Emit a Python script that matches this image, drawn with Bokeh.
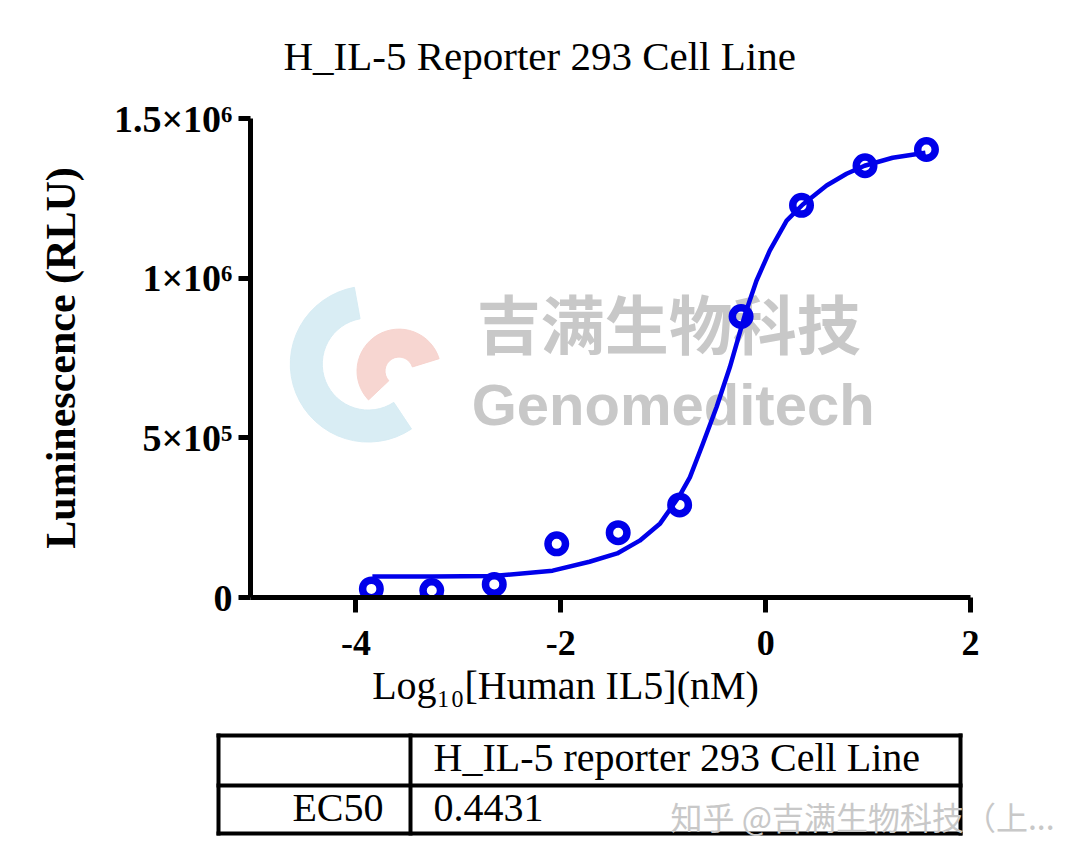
from bokeh.plotting import figure
from bokeh.models import Range1d, FixedTicker
from bokeh.core.properties import value
from bokeh.embed import file_html
from bokeh.resources import INLINE

# ---------------- data ----------------
title_text = "H_IL-5 Reporter 293 Cell Line"
x_label = "Log\u2081\u2080[Human IL5](nM)"
y_label = "Luminescence (RLU)"

pt_x = [-3.85, -3.26, -2.65, -2.04, -1.44, -0.84, -0.24, 0.35, 0.97, 1.57]
pt_y = [27e3, 22e3, 41e3, 168e3, 203e3, 290e3, 880e3, 1228e3, 1352e3, 1403e3]

curve_x = [-3.84, -3.25, -2.66, -2.08, -1.72, -1.45, -1.23, -1.03, -0.84, -0.74,
           -0.615, -0.48, -0.35, -0.205, -0.09, 0.04, 0.205, 0.36, 0.595, 0.79,
           0.965, 1.24, 1.56]
curve_y = [66e3, 66e3, 67e3, 84e3, 112e3, 138e3, 178e3, 232e3, 319e3, 376e3,
           480e3, 596e3, 721e3, 883e3, 992e3, 1086e3, 1180e3, 1230e3, 1290e3, 1327e3,
           1352e3, 1377e3, 1393e3]

x_ticks = [-4, -2, 0, 2]
x_tick_labels = ["-4", "-2", "0", "2"]
y_ticks = [0, 500000, 1000000, 1500000]
y_tick_labels = ["0", "5\u00d710\u2075", "1\u00d710\u2076", "1.5\u00d710\u2076"]

table_header = ["", "H_IL-5 reporter 293 Cell Line"]
table_row = ["EC50", "0.4431"]

wm_cn = "吉满生物科技"
wm_en = "Genomeditech"
wm_zhihu = "知乎 @吉满生物科技（上..."

BLUE = "#0000ea"
SERIF = "Liberation Serif"
W = 1072


def blank(height):
    f = figure(width=W, height=height, x_range=Range1d(0, W), y_range=Range1d(height, 0),
               output_backend="svg", toolbar_location=None, min_border=0,
               x_axis_location=None, y_axis_location=None)
    f.xgrid.visible = False
    f.ygrid.visible = False
    f.outline_line_color = None
    return f


# ---------------- title strip ----------------
TITLE_H = 82
h = blank(TITLE_H)
h.text(x=[283], y=[55], text=[title_text], text_font=value(SERIF),
       text_font_size="41px", text_color="black", text_baseline="alphabetic",
       text_align="left")

# ---------------- main chart ----------------
p = figure(width=W, height=646, frame_width=720, frame_height=479,
           x_range=Range1d(-5.03, 2.0), y_range=Range1d(0, 1500000),
           output_backend="svg", toolbar_location=None,
           min_border_left=250, min_border_right=102,
           min_border_top=118 - TITLE_H, min_border_bottom=131)
p.xgrid.visible = False
p.ygrid.visible = False
p.outline_line_color = None

# watermark logo (faint)
p.annular_wedge(x=[-3.88], y=[731e3], inner_radius=46, outer_radius=78,
                inner_radius_units="screen", outer_radius_units="screen",
                start_angle=1.75, end_angle=5.3,
                color="#d5ebf3", alpha=0.9)
p.annular_wedge(x=[-3.58], y=[709e3], inner_radius=14, outer_radius=42,
                inner_radius_units="screen", outer_radius_units="screen",
                start_angle=0.3, end_angle=3.9,
                color="#f6d2cc", alpha=0.9)

# watermark text
p.text(x=[-2.82], y=[867e3], text=[wm_cn], text_font=value("Noto Sans CJK SC"),
       text_font_style="bold", text_font_size="64px", text_color="#c8c8c8",
       text_baseline="middle", text_align="left")
p.text(x=[-2.87], y=[604e3], text=[wm_en], text_font=value("Liberation Sans"),
       text_font_style="bold", text_font_size="58px", text_color="#c8c8c8",
       text_baseline="alphabetic", text_align="left")

# fitted curve and points
p.line(curve_x, curve_y, line_color=BLUE, line_width=4.5, line_join="round")
p.scatter(pt_x, pt_y, marker="circle", size=17.5, fill_color="white", fill_alpha=0.0,
          line_color=BLUE, line_width=7.5)

# axes
for ax in (p.xaxis[0], p.yaxis[0]):
    ax.axis_line_width = 5
    ax.axis_line_color = "black"
    ax.major_tick_line_width = 5
    ax.major_tick_line_color = "black"
    ax.major_tick_in = 0
    ax.minor_tick_line_color = None
    ax.major_label_text_font = SERIF
    ax.major_label_text_font_style = "bold"
    ax.major_label_text_color = "black"
    ax.axis_label_text_font = SERIF
    ax.axis_label_text_color = "black"

p.xaxis[0].ticker = FixedTicker(ticks=x_ticks)
p.xaxis[0].major_label_overrides = {t: l for t, l in zip(x_ticks, x_tick_labels)}
p.xaxis[0].major_label_text_font_size = "36px"
p.xaxis[0].major_tick_out = 15
p.xaxis[0].major_label_standoff = 18
# trailing no-break spaces shift the centred title left, as in the reference
p.xaxis[0].axis_label = x_label + "\u00a0" * 9
p.xaxis[0].axis_label_text_font_style = "normal"
p.xaxis[0].axis_label_text_font_size = "40px"
p.xaxis[0].axis_label_standoff = 5

p.yaxis[0].ticker = FixedTicker(ticks=y_ticks)
p.yaxis[0].major_label_overrides = {t: l for t, l in zip(y_ticks, y_tick_labels)}
p.yaxis[0].major_label_text_font_size = "38px"
p.yaxis[0].major_tick_out = 12
p.yaxis[0].major_label_standoff = 6
p.yaxis[0].axis_label = y_label
p.yaxis[0].axis_label_text_font_style = "bold"
p.yaxis[0].axis_label_text_font_size = "42px"
p.yaxis[0].axis_label_standoff = 27

# ---------------- table below ----------------
t = blank(131)
T_LEFT, T_RIGHT, T_COL = 218, 960, 410
T_TOP, T_MID, T_BOT = 7, 57, 105
t.segment(x0=[T_LEFT, T_LEFT, T_LEFT, T_LEFT, T_RIGHT, T_COL],
          y0=[T_TOP, T_MID, T_BOT, T_TOP, T_TOP, T_TOP],
          x1=[T_RIGHT, T_RIGHT, T_RIGHT, T_LEFT, T_RIGHT, T_COL],
          y1=[T_TOP, T_MID, T_BOT, T_BOT, T_BOT, T_BOT],
          line_color="black", line_width=4, line_cap="square")

t.text(x=[T_COL + 23], y=[29], text=[table_header[1]], text_font=value(SERIF),
       text_font_size="40px", text_color="black", text_baseline="alphabetic",
       text_align="left")
t.text(x=[T_COL - 27], y=[79], text=[table_row[0]], text_font=value(SERIF),
       text_font_size="40px", text_color="black", text_baseline="alphabetic",
       text_align="right")
t.text(x=[T_COL + 23], y=[79], text=[table_row[1]], text_font=value(SERIF),
       text_font_size="40px", text_color="black", text_baseline="alphabetic",
       text_align="left")

t.text(x=[670], y=[87], text=[wm_zhihu], text_font=value("Noto Sans CJK SC"),
       text_font_size="32px", text_color="#c8c8c8", text_baseline="alphabetic",
       text_align="left")

open("out.html", "w").write(file_html([h, p, t], INLINE))
